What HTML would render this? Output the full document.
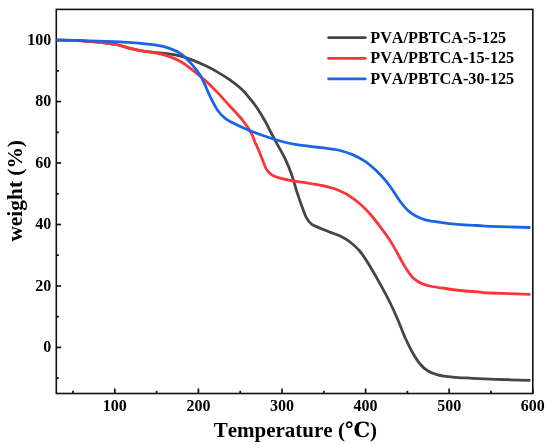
<!DOCTYPE html>
<html><head><meta charset="utf-8"><title>TGA</title>
<style>
html,body{margin:0;padding:0;background:#fff;}
svg{display:block;}
text{font-family:"Liberation Serif","DejaVu Serif",serif;font-weight:bold;fill:#000;font-kerning:none;}
</style></head><body>
<svg width="550" height="445" viewBox="0 0 550 445">
<rect width="550" height="445" fill="#fff"/>
<rect x="56.3" y="9.4" width="476.5" height="384.1" fill="none" stroke="#111" stroke-width="1.6"/>
<g stroke="#111" stroke-width="1.7"><line x1="114.8" y1="393.5" x2="114.8" y2="388.5"/><line x1="198.4" y1="393.5" x2="198.4" y2="388.5"/><line x1="282.0" y1="393.5" x2="282.0" y2="388.5"/><line x1="365.6" y1="393.5" x2="365.6" y2="388.5"/><line x1="449.2" y1="393.5" x2="449.2" y2="388.5"/><line x1="532.8" y1="393.5" x2="532.8" y2="388.5"/><line x1="73.0" y1="393.5" x2="73.0" y2="390.8"/><line x1="156.6" y1="393.5" x2="156.6" y2="390.8"/><line x1="240.2" y1="393.5" x2="240.2" y2="390.8"/><line x1="323.8" y1="393.5" x2="323.8" y2="390.8"/><line x1="407.4" y1="393.5" x2="407.4" y2="390.8"/><line x1="491.0" y1="393.5" x2="491.0" y2="390.8"/><line x1="56.3" y1="347.4" x2="61.1" y2="347.4"/><line x1="56.3" y1="286.0" x2="61.1" y2="286.0"/><line x1="56.3" y1="224.5" x2="61.1" y2="224.5"/><line x1="56.3" y1="163.0" x2="61.1" y2="163.0"/><line x1="56.3" y1="101.6" x2="61.1" y2="101.6"/><line x1="56.3" y1="40.1" x2="61.1" y2="40.1"/><line x1="56.3" y1="378.1" x2="58.9" y2="378.1"/><line x1="56.3" y1="316.7" x2="58.9" y2="316.7"/><line x1="56.3" y1="255.2" x2="58.9" y2="255.2"/><line x1="56.3" y1="193.8" x2="58.9" y2="193.8"/><line x1="56.3" y1="132.3" x2="58.9" y2="132.3"/><line x1="56.3" y1="70.9" x2="58.9" y2="70.9"/></g>
<g fill="none" stroke-width="2.8" stroke-linecap="round" stroke-linejoin="round">
<path stroke="#454545" d="M57.9 40.1C61.8 40.2 73.0 40.2 81.0 40.7C89.0 41.2 99.9 42.3 106.2 43.0C112.5 43.7 114.5 44.0 118.7 45.0C122.9 46.0 127.1 47.7 131.3 48.7C135.5 49.7 139.6 50.6 143.8 51.2C148.0 51.9 152.1 52.2 156.3 52.6C160.5 53.0 164.7 53.3 168.9 53.9C173.1 54.5 177.5 55.4 181.4 56.4C185.3 57.4 188.6 58.6 192.5 60.1C196.4 61.6 200.9 63.6 205.1 65.6C209.3 67.6 213.4 69.7 217.6 72.1C221.8 74.5 226.0 77.1 230.2 80.1C234.4 83.1 239.4 87.0 242.7 90.2C246.0 93.4 247.7 95.9 250.2 99.0C252.7 102.1 255.3 105.2 257.8 109.0C260.3 112.8 263.0 117.4 265.3 121.5C267.6 125.6 269.4 129.6 271.5 133.5C273.6 137.4 275.3 140.6 277.6 144.8C279.9 149.0 282.9 154.1 285.2 158.9C287.5 163.8 289.5 168.7 291.4 173.9C293.3 179.1 294.7 185.0 296.4 190.2C298.1 195.4 299.8 200.7 301.5 205.3C303.2 209.9 304.8 214.7 306.5 217.8C308.2 220.9 309.2 222.3 311.5 224.1C313.8 225.8 317.2 226.9 320.3 228.3C323.4 229.7 327.0 231.1 330.3 232.4C333.6 233.7 336.9 234.4 340.2 236.0C343.5 237.6 346.7 239.4 350.0 242.0C353.3 244.6 356.8 247.4 360.1 251.5C363.5 255.6 366.8 261.0 370.1 266.4C373.4 271.8 376.8 277.8 380.1 283.9C383.5 290.0 387.3 297.1 390.2 303.0C393.1 308.9 394.9 313.1 397.5 319.0C400.1 324.9 403.0 332.9 405.5 338.5C408.0 344.1 410.2 348.4 412.6 352.7C415.0 356.9 417.6 361.0 420.1 364.0C422.6 367.0 424.7 369.0 427.6 370.8C430.5 372.6 433.5 373.8 437.7 374.8C441.9 375.9 446.8 376.5 452.7 377.1C458.6 377.7 465.7 377.9 472.8 378.3C479.9 378.7 486.0 379.0 495.4 379.3C504.8 379.6 523.6 380.2 529.3 380.4"/>
<path stroke="#fa3636" d="M57.9 40.1C61.8 40.2 73.0 40.3 81.0 40.8C89.0 41.3 99.9 42.4 106.2 43.1C112.5 43.8 114.5 44.1 118.7 45.1C122.9 46.1 127.1 47.9 131.3 48.9C135.5 49.9 139.6 50.7 143.8 51.4C148.0 52.1 152.1 52.3 156.3 53.1C160.5 53.9 164.7 54.9 168.9 56.4C173.1 57.9 177.5 59.7 181.4 62.0C185.3 64.3 188.6 67.0 192.5 70.1C196.4 73.2 200.9 76.7 205.1 80.4C209.3 84.2 213.4 88.2 217.6 92.6C221.8 96.9 226.0 101.9 230.2 106.5C234.4 111.1 239.3 116.0 242.7 120.3C246.1 124.5 248.6 128.2 250.7 132.0C252.8 135.8 254.2 140.3 255.3 142.9C256.5 145.5 256.4 144.7 257.6 147.6C258.8 150.5 261.2 156.5 262.6 160.1C264.1 163.7 264.8 166.5 266.3 168.9C267.8 171.3 269.1 173.1 271.4 174.7C273.7 176.2 276.6 177.2 280.1 178.2C283.7 179.2 288.1 180.1 292.7 180.9C297.3 181.7 302.7 182.4 307.7 183.2C312.7 184.0 318.2 184.7 322.8 185.7C327.4 186.7 331.5 187.7 335.3 189.0C339.1 190.3 342.9 192.3 345.4 193.5C347.8 194.7 347.6 194.7 350.0 196.4C352.4 198.2 356.8 201.1 360.1 204.0C363.5 206.9 366.8 210.2 370.1 214.0C373.4 217.8 376.8 222.2 380.1 226.6C383.5 231.0 387.6 236.7 390.2 240.7C392.8 244.7 393.9 246.9 396.0 250.6C398.1 254.3 400.6 259.3 402.7 262.9C404.8 266.4 406.4 269.3 408.3 271.9C410.2 274.5 411.6 276.8 413.9 278.7C416.1 280.6 418.8 282.3 421.8 283.6C424.8 284.9 428.0 285.7 431.9 286.5C435.8 287.3 440.6 287.8 445.4 288.5C450.1 289.2 455.0 289.9 460.4 290.5C465.8 291.1 473.0 291.5 478.0 291.9C483.0 292.3 481.8 292.6 490.4 293.0C498.9 293.4 522.8 294.1 529.3 294.3"/>
<path stroke="#1a64e6" d="M57.9 40.1C61.8 40.2 73.0 40.4 81.0 40.6C89.0 40.8 97.8 41.0 106.2 41.3C114.6 41.6 123.0 42.0 131.3 42.6C139.7 43.2 150.0 44.2 156.3 45.1C162.6 46.0 164.7 46.6 168.9 48.1C173.1 49.6 177.5 51.4 181.4 54.2C185.3 57.0 189.4 61.6 192.5 65.1C195.6 68.6 198.0 71.8 200.1 75.1C202.2 78.4 203.4 81.7 205.1 85.2C206.8 88.8 208.0 92.2 210.1 96.4C212.2 100.6 215.1 106.6 217.6 110.2C220.1 113.8 222.3 116.0 225.2 118.3C228.1 120.6 231.4 122.1 235.2 124.0C238.9 125.9 243.1 127.9 247.7 129.8C252.3 131.7 257.4 133.6 262.8 135.5C268.2 137.4 274.8 139.5 280.2 141.0C285.6 142.5 289.3 143.4 295.2 144.4C301.1 145.4 309.4 146.3 315.3 147.0C321.2 147.7 326.2 148.2 330.3 148.8C334.4 149.4 336.3 149.5 340.0 150.5C343.7 151.5 348.3 152.8 352.5 154.6C356.7 156.4 361.3 158.8 365.1 161.3C368.9 163.8 371.8 166.5 375.1 169.6C378.5 172.7 382.3 176.7 385.2 180.1C388.1 183.5 390.2 186.6 392.7 190.2C395.2 193.8 397.7 198.2 400.2 201.5C402.7 204.8 405.2 207.8 407.7 210.2C410.2 212.6 412.4 214.2 415.3 215.8C418.2 217.4 421.1 218.7 425.3 219.8C429.5 220.9 435.0 221.6 440.4 222.3C445.8 223.1 451.6 223.8 457.9 224.3C464.2 224.8 472.6 225.2 478.0 225.5C483.4 225.8 481.4 226.1 490.0 226.4C498.6 226.7 522.8 227.3 529.3 227.5"/>
</g>
<g font-size="16"><text x="114.8" y="410.8" text-anchor="middle">100</text><text x="198.4" y="410.8" text-anchor="middle">200</text><text x="282.0" y="410.8" text-anchor="middle">300</text><text x="365.6" y="410.8" text-anchor="middle">400</text><text x="449.2" y="410.8" text-anchor="middle">500</text><text x="532.8" y="410.8" text-anchor="middle">600</text><text x="51.3" y="352.2" text-anchor="end">0</text><text x="51.3" y="290.8" text-anchor="end">20</text><text x="51.3" y="229.3" text-anchor="end">40</text><text x="51.3" y="167.8" text-anchor="end">60</text><text x="51.3" y="106.4" text-anchor="end">80</text><text x="51.3" y="44.9" text-anchor="end">100</text></g>
<g stroke-width="2.8" stroke-linecap="round">
<line x1="328.6" y1="37.7" x2="365.2" y2="37.7" stroke="#454545"/>
<line x1="328.6" y1="58.3" x2="365.2" y2="58.3" stroke="#fa3636"/>
<line x1="328.6" y1="78.8" x2="365.2" y2="78.8" stroke="#1a64e6"/>
</g>
<g font-size="16.2">
<text x="370.3" y="42.7">PVA/PBTCA-5-125</text>
<text x="370.3" y="63.3">PVA/PBTCA-15-125</text>
<text x="370.3" y="83.7">PVA/PBTCA-30-125</text>
</g>
<text font-size="21" x="295.4" y="436.6" text-anchor="middle">Temperature (℃)</text>
<text font-size="21.4" transform="translate(22.3 190.8) rotate(-90)" text-anchor="middle">weight (%)</text>
</svg>
</body></html>
